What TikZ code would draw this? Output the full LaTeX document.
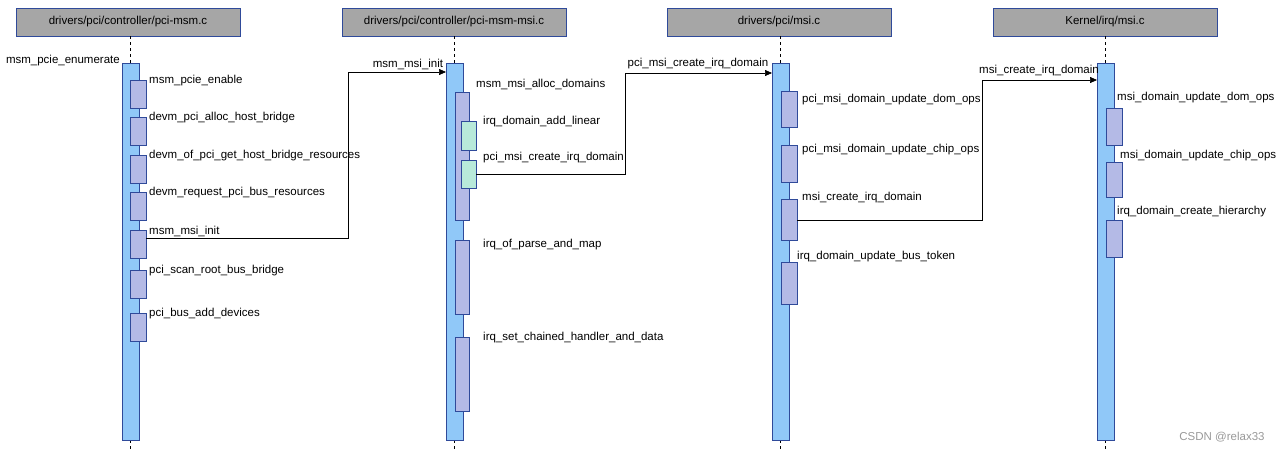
\documentclass[tikz,border=0pt]{standalone}
\usepackage{fontspec}
\setmainfont{Liberation Sans}
\usetikzlibrary{arrows.meta}
\definecolor{frm}{HTML}{2F4A9A}
\definecolor{actc}{HTML}{90C8F8}
\definecolor{subc}{HTML}{B4BAE6}
\definecolor{grnc}{HTML}{B8EADA}
\definecolor{hdc}{HTML}{A6A6A6}
\begin{document}
\begin{tikzpicture}[x=1pt,y=-1pt,
 head/.style={draw=frm,fill=hdc,line width=0.8pt},
 act/.style={draw=frm,fill=actc,line width=0.6pt},
 sub/.style={draw=frm,fill=subc,line width=0.6pt},
 grn/.style={draw=frm,fill=grnc,line width=0.6pt},
 lbl/.style={anchor=west,inner sep=0pt,font=\fontsize{11.5}{13}\selectfont},
 life/.style={dashed,line width=0.6pt},
 msg/.style={line width=0.7pt,-{Triangle[length=7pt,width=6pt]}}]
\useasboundingbox (0,0) rectangle (1284,451);
% headers
\foreach \n/\x/\t in {h1/16/{drivers/pci/controller/pci-msm.c},h2/342/{drivers/pci/controller/pci-msm-msi.c},h3/667/{drivers/pci/msi.c},h4/993/{Kernel/irq/msi.c}}{
 \draw[head] (\x,8) rectangle ++(224,28);
 \node[font=\fontsize{11.5}{13}\selectfont] (\n) at (\x+112,22) {\t};
}
\foreach \c in {130,454,780,1105}{
 \draw[life] (\c,36) -- (\c,63);
 \draw[life] (\c,440) -- (\c,451);
 \draw[act] (\c-8,63) rectangle (\c+9,440);
}
% col1
\foreach \y/\t in {80/msm\_pcie\_enable,117/devm\_pci\_alloc\_host\_bridge,155/devm\_of\_pci\_get\_host\_bridge\_resources,192/devm\_request\_pci\_bus\_resources,230/msm\_msi\_init,270/pci\_scan\_root\_bus\_bridge,313/pci\_bus\_add\_devices}{
 \draw[sub] (130,\y) rectangle (146,\y+28);
 \node[lbl] at (149,\y+1) {\t};
}
\node[lbl,anchor=east] (enum) at (120,61) {msm\_pcie\_enumerate};
% col2
\draw[sub] (455,92) rectangle (469,220);
\draw[grn] (461,121) rectangle (476,150);
\draw[grn] (461,160) rectangle (476,188);
\draw[sub] (455,240) rectangle (469,314);
\draw[sub] (455,337) rectangle (469,411);
\node[lbl] at (476,84) {msm\_msi\_alloc\_domains};
\node[lbl] at (483,122) {irq\_domain\_add\_linear};
\node[lbl] at (483,158) {pci\_msi\_create\_irq\_domain};
\node[lbl] at (483,245) {irq\_of\_parse\_and\_map};
\node[lbl] at (483,338) {irq\_set\_chained\_handler\_and\_data};
% col3
\foreach \a/\b in {91/127,145/182,199/240,262/304}{\draw[sub] (781,\a) rectangle (797,\b);}
\node[lbl] at (802,100) {pci\_msi\_domain\_update\_dom\_ops};
\node[lbl] at (802,150) {pci\_msi\_domain\_update\_chip\_ops};
\node[lbl] at (802,198) {msi\_create\_irq\_domain};
\node[lbl] at (797,257) {irq\_domain\_update\_bus\_token};
% col4
\foreach \a/\b in {108/145,162/197,220/257}{\draw[sub] (1106,\a) rectangle (1122,\b);}
\node[lbl] at (1117,98) {msi\_domain\_update\_dom\_ops};
\node[lbl] at (1120,156) {msi\_domain\_update\_chip\_ops};
\node[lbl] at (1117,212) {irq\_domain\_create\_hierarchy};
% messages
\coordinate (s1) at (146,238); \coordinate (e1) at (446,72);
\draw[msg] (s1) -- (348,238) -- (348,72) -- (e1);
\node[lbl,anchor=center] at (408,64) {msm\_msi\_init};
\coordinate (s2) at (476,174); \coordinate (e2) at (772,73);
\draw[msg] (s2) -- (625,174) -- (625,73) -- (e2);
\node[lbl,anchor=center] at (698,64) {pci\_msi\_create\_irq\_domain};
\coordinate (s3) at (797,220); \coordinate (e3) at (1097,80);
\draw[msg] (s3) -- (982,220) -- (982,80) -- (e3);
\node[lbl,anchor=center] at (1039,71) {msi\_create\_irq\_domain};
\node[lbl,anchor=center,text=gray!80] at (1222,437) {CSDN @relax33};
\end{tikzpicture}
\end{document}
